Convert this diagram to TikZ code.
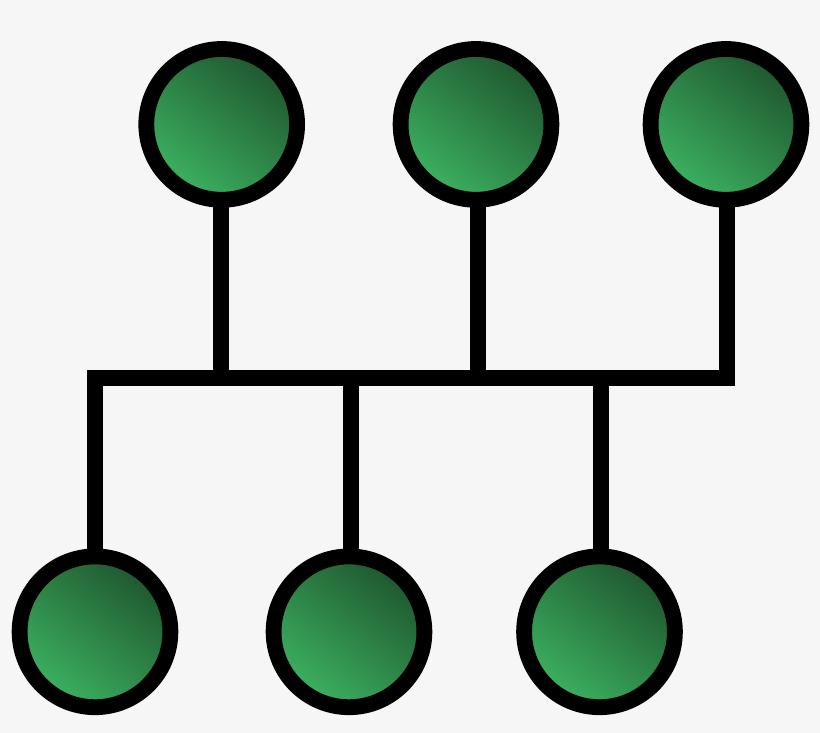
\documentclass[tikz,border=0pt]{standalone}
\definecolor{pagebg}{RGB}{246,246,246}
\definecolor{greenlight}{RGB}{60,178,97}
\definecolor{greendark}{RGB}{31,86,46}
\tikzset{
  station/.style={circle,draw=black,line width=15.8pt,minimum size=150.8pt,inner sep=0pt,outer sep=0pt,
    top color=greendark,bottom color=greenlight,shading angle=-38},
  wire/.style={draw=black,line width=16pt,miter limit=10}
}
\begin{document}
\begin{tikzpicture}[x=1pt,y=-1pt]
\fill[pagebg] (0,0) rectangle (820,733);
\useasboundingbox (0,0) rectangle (820,733);
\coordinate (ja) at (221,378);
\coordinate (jb) at (478,378);
\coordinate (jc) at (727,378);
\coordinate (jd) at (95.3,378);
\coordinate (je) at (351,378);
\coordinate (jf) at (601,378);
\path (221.7,124.4) coordinate (pa) (476,124.4) coordinate (pb) (726,124.4) coordinate (pc)
      (95,631.8) coordinate (pd) (349,631.8) coordinate (pe) (599.5,631.8) coordinate (pf);
\path[wire] (ja) -- (ja |- pa);
\path[wire] (jb) -- (jb |- pb);
\path[wire] (je) -- (je |- pe);
\path[wire] (jf) -- (jf |- pf);
\path[wire] (jd |- pd) -- (jd) -- (jc) -- (jc |- pc);
\node[station] (a) at (pa) {};
\node[station] (b) at (pb) {};
\node[station] (c) at (pc) {};
\node[station] (d) at (pd) {};
\node[station] (e) at (pe) {};
\node[station] (f) at (pf) {};
\end{tikzpicture}
\end{document}
